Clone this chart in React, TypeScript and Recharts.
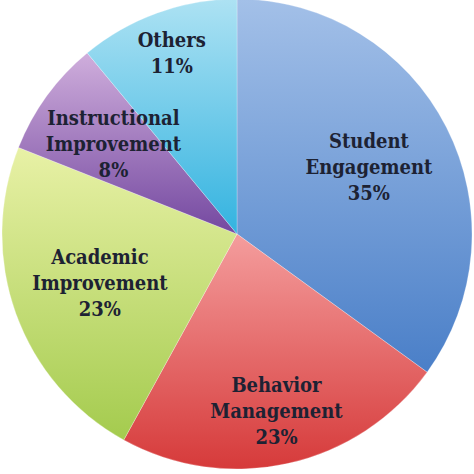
import { PieChart, Pie, Cell } from "recharts";

const categories = [
  "Student Engagement",
  "Behavior Management",
  "Academic Improvement",
  "Instructional Improvement",
  "Others",
];
const values = [35, 23, 23, 8, 11];
const labelLines = [
  ["Student", "Engagement"],
  ["Behavior", "Management"],
  ["Academic", "Improvement"],
  ["Instructional", "Improvement"],
  ["Others"],
];

// top / bottom colours of each slice's vertical gradient
const GRADIENTS = [
  ["#a3c0e8", "#4a7fc8"],
  ["#f49d9d", "#d63a3a"],
  ["#e8f1a6", "#a4cb4e"],
  ["#cfaedc", "#7448a0"],
  ["#ade2f3", "#33b3e0"],
];

// how far out along the radius each label sits
const LABEL_RADIUS = [0.63, 0.77, 0.62, 0.65, 0.82];

const data = categories.map((name, i) => ({ name, value: values[i] }));

const RAD = Math.PI / 180;

function renderLabel(props: any) {
  const { cx, cy, midAngle, outerRadius, index, value } = props;
  const r = outerRadius * LABEL_RADIUS[index];
  const x = cx + r * Math.cos(-midAngle * RAD);
  const y = cy + r * Math.sin(-midAngle * RAD);
  const lines = [...labelLines[index], `${value}%`];
  const lh = 26;
  const top = y - ((lines.length - 1) * lh) / 2;
  return (
    <text
      key={`l-${index}`}
      x={x}
      y={top}
      textAnchor="middle"
      dominantBaseline="central"
      fill="#1d2233"
      fontFamily="'DejaVu Serif Condensed', 'DejaVu Serif', serif"
      fontStretch="condensed"
      fontWeight="bold"
      fontSize={20}
    >
      {lines.map((t, i) => (
        <tspan key={i} x={x} dy={i === 0 ? 0 : lh}>
          {t}
        </tspan>
      ))}
    </text>
  );
}

export default function App() {
  return (
    <div style={{ position: "fixed", left: 0, top: 0, width: 474, height: 474, background: "#fff" }}>
      <PieChart width={474} height={474} margin={{ top: 0, right: 0, bottom: 0, left: 0 }}>
        <defs>
          {GRADIENTS.map(([a, b], i) => (
            <linearGradient key={i} id={`g${i}`} x1="0" y1="0" x2="0" y2="1">
              <stop offset="0%" stopColor={a} />
              <stop offset="100%" stopColor={b} />
            </linearGradient>
          ))}
        </defs>
        <Pie
          data={data}
          dataKey="value"
          cx={237}
          cy={234}
          outerRadius={235}
          startAngle={90}
          endAngle={-270}
          stroke="rgba(255,255,255,0.25)"
          strokeWidth={1}
          label={renderLabel}
          labelLine={false}
          isAnimationActive={false}
        >
          {data.map((_, i) => (
            <Cell key={i} fill={`url(#g${i})`} />
          ))}
        </Pie>
      </PieChart>
    </div>
  );
}
